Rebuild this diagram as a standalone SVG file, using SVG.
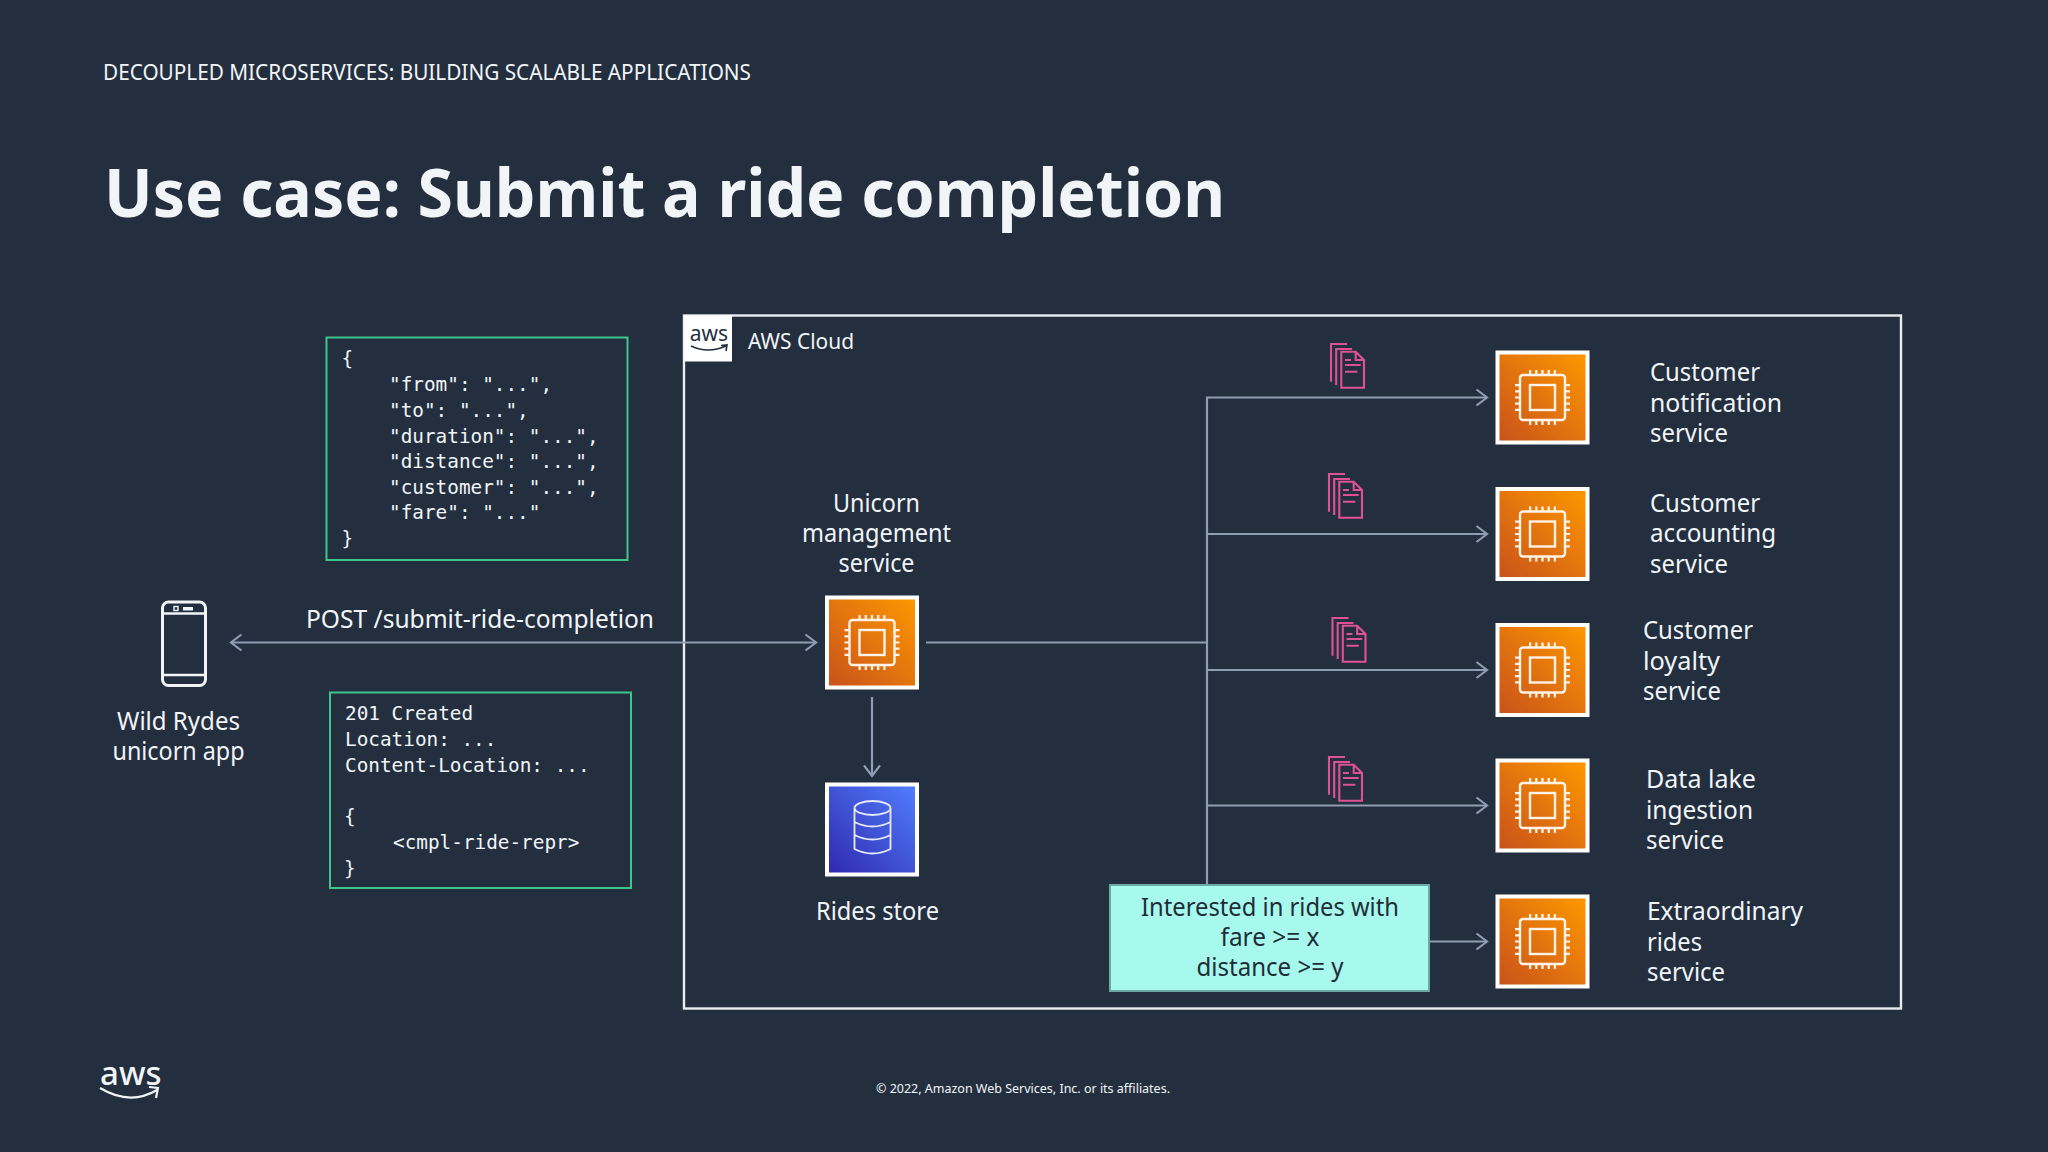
<svg xmlns="http://www.w3.org/2000/svg" xmlns:xlink="http://www.w3.org/1999/xlink" width="2048" height="1152" viewBox="0 0 2048 1152">
<style>
text{font-family:"Noto Sans","Open Sans","Liberation Sans",sans-serif;fill:#f2f5f7;font-size:25px}
.c{text-anchor:middle}
.mono{font-family:"DejaVu Sans Mono","Liberation Mono",monospace;font-size:19.35px}
.conn{fill:none;stroke:#8e9db2;stroke-width:2.2}
.json{fill:none;stroke:#3fc58b;stroke-width:2}
.chip{fill:none;stroke:#fdf3e6;stroke-width:2.4}
.pin{fill:none;stroke:#fdf3e6;stroke-width:2.2}
.doc{fill:none;stroke:#de5291;stroke-width:2.1}
.db{fill:none;stroke:#e6eafc;stroke-width:1.8}
</style>
<defs>
<linearGradient id="og" x1="0" y1="1" x2="1" y2="0"><stop offset="0" stop-color="#c8511b"/><stop offset="1" stop-color="#ff9900"/></linearGradient>
<linearGradient id="bg" x1="0" y1="1" x2="1" y2="0"><stop offset="0" stop-color="#2e27ad"/><stop offset="1" stop-color="#527fff"/></linearGradient>
<marker id="ah" markerUnits="userSpaceOnUse" markerWidth="14" markerHeight="20" refX="12" refY="10" orient="auto-start-reverse"><path d="M1.5 2 L12 10 L1.5 18" fill="none" stroke="#8e9db2" stroke-width="2.2"/></marker>
<g id="ec2">
<rect x="-45" y="-45" width="90" height="90" fill="url(#og)" stroke="#fff" stroke-width="4"/>
<rect class="chip" x="-22.5" y="-22.5" width="45" height="45" rx="3"/>
<rect class="chip" x="-12.5" y="-12.5" width="25" height="25"/>
<path class="pin" d="M-12.4-27.5v5M-6.2-27.5v5M0-27.5v5M6.2-27.5v5M12.4-27.5v5M-12.4 22.5v5M-6.2 22.5v5M0 22.5v5M6.2 22.5v5M12.4 22.5v5M-27.5-12.4h5M-27.5-6.2h5M-27.5 0h5M-27.5 6.2h5M-27.5 12.4h5M22.5-12.4h5M22.5-6.2h5M22.5 0h5M22.5 6.2h5M22.5 12.4h5"/>
</g>
<g id="doc">
<path class="doc" d="M1 37.7V0H17M6.2 41V5H22M11.3 7.7H25.7L34 16V43.7H11.3ZM25.7 7.7V16H34M15 16H21M15 21H30.7M15 27.7H27.3"/>
</g>
</defs>
<rect width="2048" height="1152" fill="#232f3f"/>
<text id="header" x="103" y="80" style="font-size:21px" textLength="648" lengthAdjust="spacingAndGlyphs">DECOUPLED MICROSERVICES: BUILDING SCALABLE APPLICATIONS</text>
<text id="title" x="104" y="217" style="font-size:66px;font-weight:700" textLength="1121" lengthAdjust="spacingAndGlyphs">Use case: Submit a ride completion</text>

<g id="aws-cloud">
<rect x="684" y="315.5" width="1217" height="693" fill="none" stroke="#e9edf0" stroke-width="2.4"/>
<rect x="684" y="315.5" width="48" height="46" fill="#fff"/>
<text x="709" y="341" class="c" style="font-size:21px;fill:#232f3f">aws</text>
<path d="M691 346Q708 354 726 346M721 345.500L727 345L726 351" fill="none" stroke="#232f3f" stroke-width="1.6"/>
<text x="748" y="349" style="font-size:22px" textLength="106" lengthAdjust="spacingAndGlyphs">AWS Cloud</text>
</g>

<g id="connectors">
<path class="conn" d="M231 642.500H816" marker-start="url(#ah)" marker-end="url(#ah)"/>
<path class="conn" d="M926 642.500H1207"/>
<path class="conn" d="M1207 884V397.500H1487" marker-end="url(#ah)"/>
<path class="conn" d="M1207 534H1487" marker-end="url(#ah)"/>
<path class="conn" d="M1207 670H1487" marker-end="url(#ah)"/>
<path class="conn" d="M1207 805.500H1487" marker-end="url(#ah)"/>
<path class="conn" d="M1430 941.500H1487" marker-end="url(#ah)"/>
<path class="conn" d="M872 697V776" marker-end="url(#ah)"/>
</g>

<g id="request-body">
<rect class="json" x="326.500" y="337.500" width="301" height="222.500"/>
<text class="mono" x="341.500" y="365">{</text>
<text class="mono" x="389" y="391">"from": "...",</text>
<text class="mono" x="389" y="417">"to": "...",</text>
<text class="mono" x="389" y="442.500">"duration": "...",</text>
<text class="mono" x="389" y="468">"distance": "...",</text>
<text class="mono" x="389" y="494">"customer": "...",</text>
<text class="mono" x="389" y="519">"fare": "..."</text>
<text class="mono" x="341.500" y="545">}</text>
</g>
<text id="post-label" x="306" y="628" textLength="348" lengthAdjust="spacingAndGlyphs">POST /submit-ride-completion</text>
<g id="response-body">
<rect class="json" x="330" y="692.500" width="301" height="195.500"/>
<text class="mono" x="345" y="720">201 Created</text>
<text class="mono" x="345" y="746">Location: ...</text>
<text class="mono" x="345" y="771.500">Content-Location: ...</text>
<text class="mono" x="344" y="823">{</text>
<text class="mono" x="393" y="848.500">&lt;cmpl-ride-repr&gt;</text>
<text class="mono" x="344" y="875">}</text>
</g>

<g id="wild-rydes-app">
<rect x="162.500" y="602" width="43" height="83.500" rx="6" fill="none" stroke="#f2f5f7" stroke-width="3"/>
<path d="M163 613.500H205M163 675H205" fill="none" stroke="#f2f5f7" stroke-width="2.600"/>
<rect x="174" y="606.500" width="4" height="4" fill="none" stroke="#f2f5f7" stroke-width="1.400"/>
<rect x="183" y="607" width="10" height="3.500" fill="#f2f5f7"/>
<text class="c" x="178.500" y="730" textLength="123" lengthAdjust="spacingAndGlyphs">Wild Rydes</text>
<text class="c" x="178.500" y="760" textLength="132" lengthAdjust="spacingAndGlyphs">unicorn app</text>
</g>

<g id="unicorn-management-service">
<text class="c" x="876.500" y="511.500" textLength="87" lengthAdjust="spacingAndGlyphs">Unicorn</text>
<text class="c" x="876.500" y="541.500" textLength="149" lengthAdjust="spacingAndGlyphs">management</text>
<text class="c" x="876.500" y="571.500" textLength="76" lengthAdjust="spacingAndGlyphs">service</text>
<use href="#ec2" x="872" y="642.500"/>
</g>

<g id="rides-store">
<rect x="827" y="784.500" width="90" height="90" fill="url(#bg)" stroke="#fff" stroke-width="4"/>
<path class="db" d="M854.500 808.500V849Q872.500 858 890.500 849V808.500M854.500 822Q872.500 831 890.500 822M854.500 835Q872.500 844 890.500 835"/>
<ellipse class="db" cx="872.500" cy="808" rx="18" ry="7"/>
<text class="c" x="877.500" y="919.500" textLength="123" lengthAdjust="spacingAndGlyphs">Rides store</text>
</g>

<g id="events">
<use href="#doc" x="1330" y="344"/>
<use href="#doc" x="1328" y="474"/>
<use href="#doc" x="1331.500" y="618"/>
<use href="#doc" x="1328" y="757"/>
</g>

<g id="customer-notification-service">
<use href="#ec2" x="1542.500" y="397.500"/>
<text x="1650" y="381" textLength="110" lengthAdjust="spacingAndGlyphs">Customer</text><text x="1650" y="411.500" textLength="132" lengthAdjust="spacingAndGlyphs">notification</text><text x="1650" y="442" textLength="78" lengthAdjust="spacingAndGlyphs">service</text>
</g>
<g id="customer-accounting-service">
<use href="#ec2" x="1542.500" y="534"/>
<text x="1650" y="511.500" textLength="110" lengthAdjust="spacingAndGlyphs">Customer</text><text x="1650" y="542" textLength="126" lengthAdjust="spacingAndGlyphs">accounting</text><text x="1650" y="572.500" textLength="78" lengthAdjust="spacingAndGlyphs">service</text>
</g>
<g id="customer-loyalty-service">
<use href="#ec2" x="1542.500" y="670"/>
<text x="1643" y="639" textLength="110" lengthAdjust="spacingAndGlyphs">Customer</text><text x="1643" y="669.500" textLength="77" lengthAdjust="spacingAndGlyphs">loyalty</text><text x="1643" y="700" textLength="78" lengthAdjust="spacingAndGlyphs">service</text>
</g>
<g id="data-lake-ingestion-service">
<use href="#ec2" x="1542.500" y="805.500"/>
<text x="1646" y="788" textLength="110" lengthAdjust="spacingAndGlyphs">Data lake</text><text x="1646" y="818.500" textLength="107" lengthAdjust="spacingAndGlyphs">ingestion</text><text x="1646" y="849" textLength="78" lengthAdjust="spacingAndGlyphs">service</text>
</g>
<g id="extraordinary-rides-service">
<use href="#ec2" x="1542.500" y="941.500"/>
<text x="1647" y="920" textLength="156" lengthAdjust="spacingAndGlyphs">Extraordinary</text><text x="1647" y="950.500" textLength="55" lengthAdjust="spacingAndGlyphs">rides</text><text x="1647" y="981" textLength="78" lengthAdjust="spacingAndGlyphs">service</text>
</g>

<g id="filter">
<rect x="1110" y="885" width="319" height="106" fill="#a6f9ec" stroke="#6aa9a5" stroke-width="2"/>
<text class="c" x="1270" y="916" style="fill:#1f2d38" textLength="258" lengthAdjust="spacingAndGlyphs">Interested in rides with</text>
<text class="c" x="1270" y="946" style="fill:#1f2d38" textLength="99" lengthAdjust="spacingAndGlyphs">fare &gt;= x</text>
<text class="c" x="1270" y="976" style="fill:#1f2d38" textLength="147" lengthAdjust="spacingAndGlyphs">distance &gt;= y</text>
</g>

<g id="footer">
<text x="100" y="1085" style="font-size:33px;font-weight:500">aws</text>
<path d="M100 1088Q130 1106 157 1090M149 1087L158 1088L156 1098" fill="none" stroke="#f2f5f7" stroke-width="2.200"/>
<text class="c" x="1023" y="1093" style="font-size:13px" textLength="294" lengthAdjust="spacingAndGlyphs">© 2022, Amazon Web Services, Inc. or its affiliates.</text>
</g>
</svg>
